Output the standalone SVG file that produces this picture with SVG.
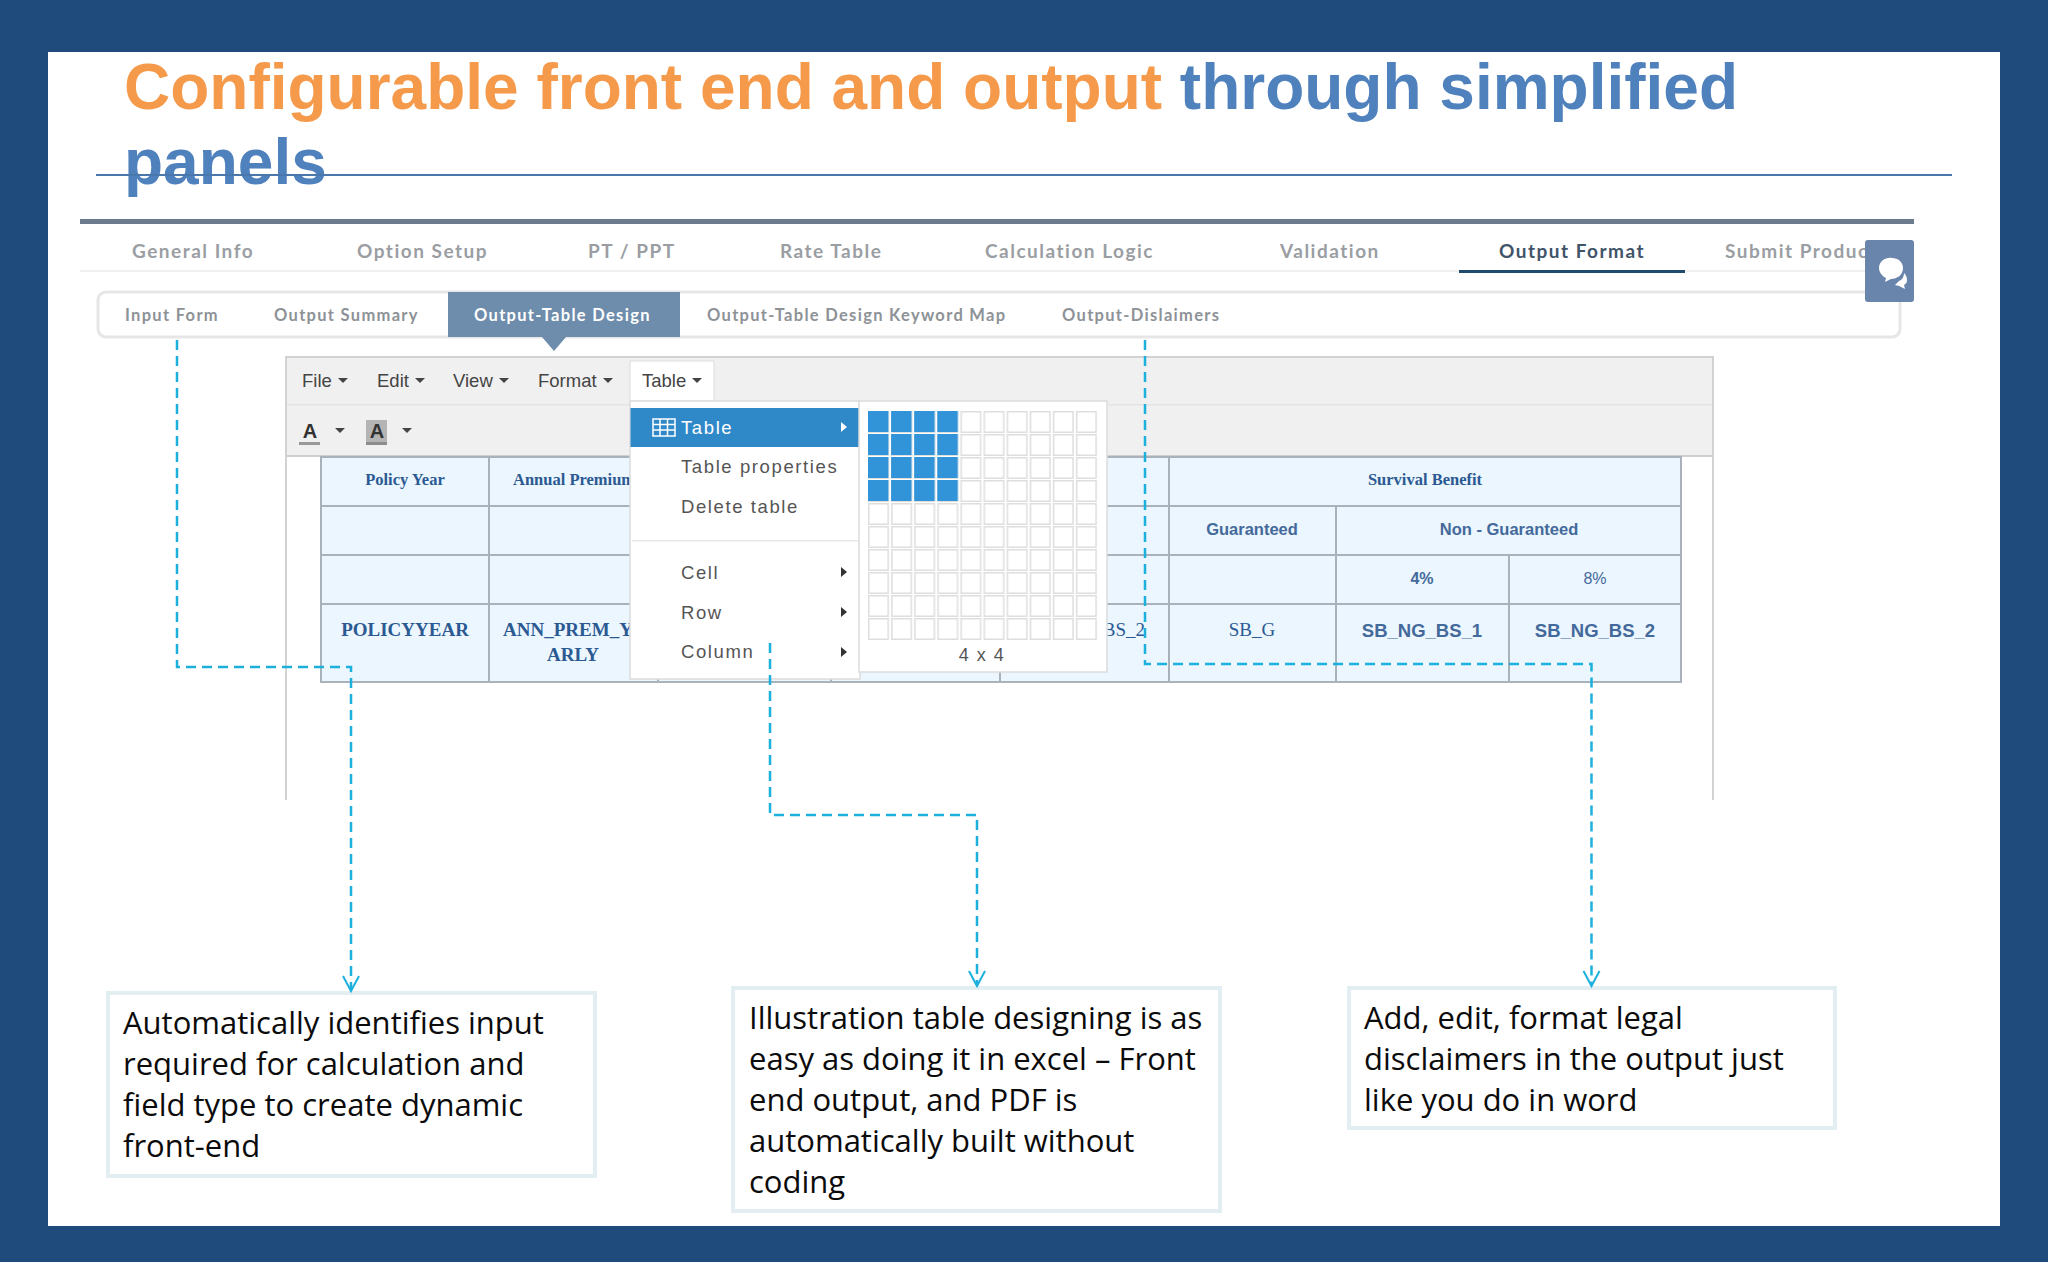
<svg xmlns="http://www.w3.org/2000/svg" width="2048" height="1262" viewBox="0 0 2048 1262">
<style>
text{font-family:"Liberation Sans",Arial,sans-serif}
.title{font-size:64px;font-weight:700}
.tab{font-family:Lato,"Liberation Sans",sans-serif;font-size:19px;font-weight:700;fill:#9a9ea3;letter-spacing:1.500px}
.sub{font-family:Lato,"Liberation Sans",sans-serif;font-size:16.500px;font-weight:700;fill:#8d9297;letter-spacing:1.300px}
.mb{font-size:18.500px;fill:#444}
.mi{font-size:18.500px;fill:#555;letter-spacing:1.600px}
.car{fill:#444}
.cell{fill:#ebf6fe;stroke:#a9b1bb;stroke-width:2}
.s{font-family:"Liberation Serif",serif;font-weight:700;fill:#2b5a93;text-anchor:middle}
.a{font-weight:700;fill:#44699b;text-anchor:middle}
.conn{fill:none;stroke:#1cb0dc;stroke-width:2.500;stroke-dasharray:10 6}
.box{fill:#fff;stroke:#e3eef3;stroke-width:4}
.call{font-family:"Open Sans","Noto Sans",sans-serif;font-size:31px;fill:#0b0b0b}
</style>
<defs>
<pattern id="gw" x="868" y="411" width="23.1" height="23" patternUnits="userSpaceOnUse"><rect x=".75" y=".75" width="19.500" height="20.500" fill="#fff" stroke="#dedede" stroke-width="1.500"/></pattern>
<pattern id="gb" x="868" y="411" width="23.1" height="23" patternUnits="userSpaceOnUse"><rect width="20.500" height="21" fill="#3193d8"/></pattern>
<path id="c" d="M0 0h10l-5 5z"/>
<path id="ra" d="M0 0l6 5-6 5z"/>
</defs>

<rect width="2048" height="1262" fill="#1f4a7c"/>
<rect x="48" y="52" width="1952" height="1174" fill="#fff"/>

<g id="title">
<text class="title" x="124" y="109"><tspan fill="#f5994b">Configurable front end and output </tspan><tspan fill="#4f81bd">through simplified</tspan></text>
<text class="title" x="124" y="184" fill="#4f81bd">panels</text>
<rect x="96" y="174" width="1856" height="2" fill="#4a78ad"/>
</g>

<g id="main-tabs">
<rect x="80" y="219" width="1834" height="5" fill="#6b7a8c"/>
<rect x="80" y="270" width="1834" height="2" fill="#f0f0f0"/>
<text class="tab" x="132" y="258">General Info</text>
<text class="tab" x="357" y="258">Option Setup</text>
<text class="tab" x="588" y="258">PT / PPT</text>
<text class="tab" x="780" y="258">Rate Table</text>
<text class="tab" x="985" y="258">Calculation Logic</text>
<text class="tab" x="1280" y="258">Validation</text>
<text class="tab" x="1499" y="258" style="fill:#3f5469">Output Format</text>
<rect x="1459" y="270" width="226" height="3" fill="#1f4a6c"/>
<text class="tab" x="1725" y="258">Submit Produc</text>
</g>

<g id="sub-tabs">
<rect x="98" y="292" width="1802" height="45" rx="8" fill="#fff" stroke="#e6e6e6" stroke-width="3"/>
<path d="M448 292H680V337H566L554 351 542 337H448z" fill="#6e8cab"/>
<text class="sub" x="125" y="321">Input Form</text>
<text class="sub" x="274" y="321">Output Summary</text>
<text class="sub" x="474" y="321" style="fill:#fff">Output-Table Design</text>
<text class="sub" x="707" y="321">Output-Table Design Keyword Map</text>
<text class="sub" x="1062" y="321">Output-Dislaimers</text>
</g>

<g id="chat-button">
<rect x="1865" y="240" width="49" height="62" rx="3" fill="#6a85ab"/>
<path d="M1879 268c0-7 7-11 13-10 6 0 11 4 11 10 0 7-6 11-12 11l-6 3 1-4c-4-2-7-6-7-10z" fill="#fff"/>
<path d="M1899 281c3-1 5-4 5-8 2 2 3 4 3 7 0 2-1 4-3 5l1 4-6-3-4-1z" fill="#fff"/>
</g>

<g id="editor">
<path d="M286 800V357H1713V800" fill="#fff" stroke="#c4c4c4" stroke-width="1.500"/>
<rect x="287" y="358" width="1425" height="98" fill="#f1f0f0"/>
<rect x="287" y="404" width="1425" height="1.500" fill="#e4e4e4"/>
<rect x="287" y="455" width="1425" height="2" fill="#cfcfcf"/>
<text class="mb" x="302" y="387">File</text><use href="#c" class="car" x="338" y="378"/>
<text class="mb" x="377" y="387">Edit</text><use href="#c" class="car" x="415" y="378"/>
<text class="mb" x="453" y="387">View</text><use href="#c" class="car" x="499" y="378"/>
<text class="mb" x="538" y="387">Format</text><use href="#c" class="car" x="603" y="378"/>
<text x="310" y="438" font-size="20" font-weight="700" text-anchor="middle" fill="#333">A</text>
<rect x="299" y="442" width="21" height="3" fill="#999"/>
<use href="#c" class="car" x="335" y="428"/>
<rect x="366" y="420" width="21" height="25" fill="#b4b4b4"/>
<text x="377" y="438" font-size="20" font-weight="700" text-anchor="middle" fill="#333">A</text>
<rect x="366" y="442" width="21" height="3" fill="#8c8c8c"/>
<use href="#c" class="car" x="402" y="428"/>
</g>

<g id="output-table">
<rect class="cell" x="321" y="457" width="168" height="49"/><rect class="cell" x="489" y="457" width="169" height="49"/><rect class="cell" x="658" y="457" width="173" height="49"/><rect class="cell" x="831" y="457" width="169" height="49"/><rect class="cell" x="1000" y="457" width="169" height="49"/><rect class="cell" x="1169" y="457" width="512" height="49"/>
<rect class="cell" x="321" y="506" width="168" height="49"/><rect class="cell" x="489" y="506" width="169" height="49"/><rect class="cell" x="658" y="506" width="173" height="49"/><rect class="cell" x="831" y="506" width="169" height="49"/><rect class="cell" x="1000" y="506" width="169" height="49"/><rect class="cell" x="1169" y="506" width="167" height="49"/><rect class="cell" x="1336" y="506" width="345" height="49"/>
<rect class="cell" x="321" y="555" width="168" height="49"/><rect class="cell" x="489" y="555" width="169" height="49"/><rect class="cell" x="658" y="555" width="173" height="49"/><rect class="cell" x="831" y="555" width="169" height="49"/><rect class="cell" x="1000" y="555" width="169" height="49"/><rect class="cell" x="1169" y="555" width="167" height="49"/><rect class="cell" x="1336" y="555" width="173" height="49"/><rect class="cell" x="1509" y="555" width="172" height="49"/>
<rect class="cell" x="321" y="604" width="168" height="78"/><rect class="cell" x="489" y="604" width="169" height="78"/><rect class="cell" x="658" y="604" width="173" height="78"/><rect class="cell" x="831" y="604" width="169" height="78"/><rect class="cell" x="1000" y="604" width="169" height="78"/><rect class="cell" x="1169" y="604" width="167" height="78"/><rect class="cell" x="1336" y="604" width="173" height="78"/><rect class="cell" x="1509" y="604" width="172" height="78"/>
<text class="s" x="405" y="485" font-size="16.500">Policy Year</text>
<text class="s" x="513" y="485" font-size="16.500" style="text-anchor:start">Annual Premium</text>
<text class="s" x="1425" y="485" font-size="16.500">Survival Benefit</text>
<text class="a" x="1252" y="535" font-size="16.500">Guaranteed</text>
<text class="a" x="1509" y="535" font-size="16.500">Non - Guaranteed</text>
<text class="a" x="1422" y="584" font-size="16">4%</text>
<text class="a" x="1595" y="584" font-size="16" style="font-weight:400">8%</text>
<text class="s" x="405" y="636" font-size="19">POLICYYEAR</text>
<text class="s" x="568" y="636" font-size="19">ANN_PREM_Y</text>
<text class="s" x="573" y="661" font-size="19">ARLY</text>
<text class="s" x="1145" y="636" font-size="19" style="text-anchor:end;font-weight:400">BS_2</text>
<text class="s" x="1252" y="636" font-size="19" style="font-weight:400">SB_G</text>
<text class="a" x="1422" y="637" font-size="18.500">SB_NG_BS_1</text>
<text class="a" x="1595" y="637" font-size="18.500">SB_NG_BS_2</text>
</g>

<g id="table-menu">
<rect x="630" y="361" width="84" height="40" fill="#fff" stroke="#dcdcdc"/>
<text class="mb" x="642" y="387">Table</text><use href="#c" class="car" x="692" y="378"/>
<rect x="630" y="401" width="230" height="278" fill="#fff" stroke="#dcdcdc" stroke-width="1.500"/>
<rect x="630.500" y="408" width="229" height="39" fill="#2f88c8"/>
<g fill="none" stroke="#fff" stroke-width="1.500"><rect x="653" y="419" width="22" height="17"/><path d="M660 419v17M667.500 419v17M653 424.500h22M653 430h22"/></g>
<text class="mi" x="681" y="434" style="fill:#fff">Table</text>
<text class="mi" x="681" y="473">Table properties</text>
<text class="mi" x="681" y="513">Delete table</text>
<rect x="632" y="540" width="227" height="1.500" fill="#e8e8e8"/>
<text class="mi" x="681" y="579">Cell</text>
<text class="mi" x="681" y="619">Row</text>
<text class="mi" x="681" y="658">Column</text>
<use href="#ra" x="841" y="422" fill="#fff"/>
<use href="#ra" x="841" y="567" fill="#333"/>
<use href="#ra" x="841" y="607" fill="#333"/>
<use href="#ra" x="841" y="647" fill="#333"/>
</g>

<g id="table-size-picker">
<rect x="859" y="401" width="248" height="271" fill="#fff" stroke="#dcdcdc" stroke-width="1.500"/>
<rect x="868" y="411" width="231" height="230" fill="url(#gw)"/>
<rect x="868" y="411" width="92" height="92" fill="url(#gb)"/>
<text x="982" y="661" font-size="18" fill="#555" text-anchor="middle" letter-spacing="1.500">4 x 4</text>
</g>

<g id="box-input">
<rect class="box" x="108" y="993" width="487" height="183"/>
<text class="call" x="123" y="1034">Automatically identifies input</text>
<text class="call" x="123" y="1075">required for calculation and</text>
<text class="call" x="123" y="1116">field type to create dynamic</text>
<text class="call" x="123" y="1157">front-end</text>
</g>
<g id="box-table">
<rect class="box" x="733" y="988" width="487" height="223"/>
<text class="call" x="749" y="1029">Illustration table designing is as</text>
<text class="call" x="749" y="1070">easy as doing it in excel – Front</text>
<text class="call" x="749" y="1111">end output, and PDF is</text>
<text class="call" x="749" y="1152">automatically built without</text>
<text class="call" x="749" y="1193">coding</text>
</g>
<g id="box-disclaimers">
<rect class="box" x="1349" y="988" width="486" height="140"/>
<text class="call" x="1364" y="1029">Add, edit, format legal</text>
<text class="call" x="1364" y="1070">disclaimers in the output just</text>
<text class="call" x="1364" y="1111">like you do in word</text>
</g>

<g id="connectors">
<path class="conn" d="M177 340V667H351V990"/>
<path class="conn" d="M770 643V815H977V985"/>
<path class="conn" d="M1145 340V664H1591.500V985"/>
<path d="M343 976l8 15 8-15M969 971l8 15 8-15M1583.500 971l8 15 8-15" fill="none" stroke="#1cb0dc" stroke-width="2"/>
</g>
</svg>
